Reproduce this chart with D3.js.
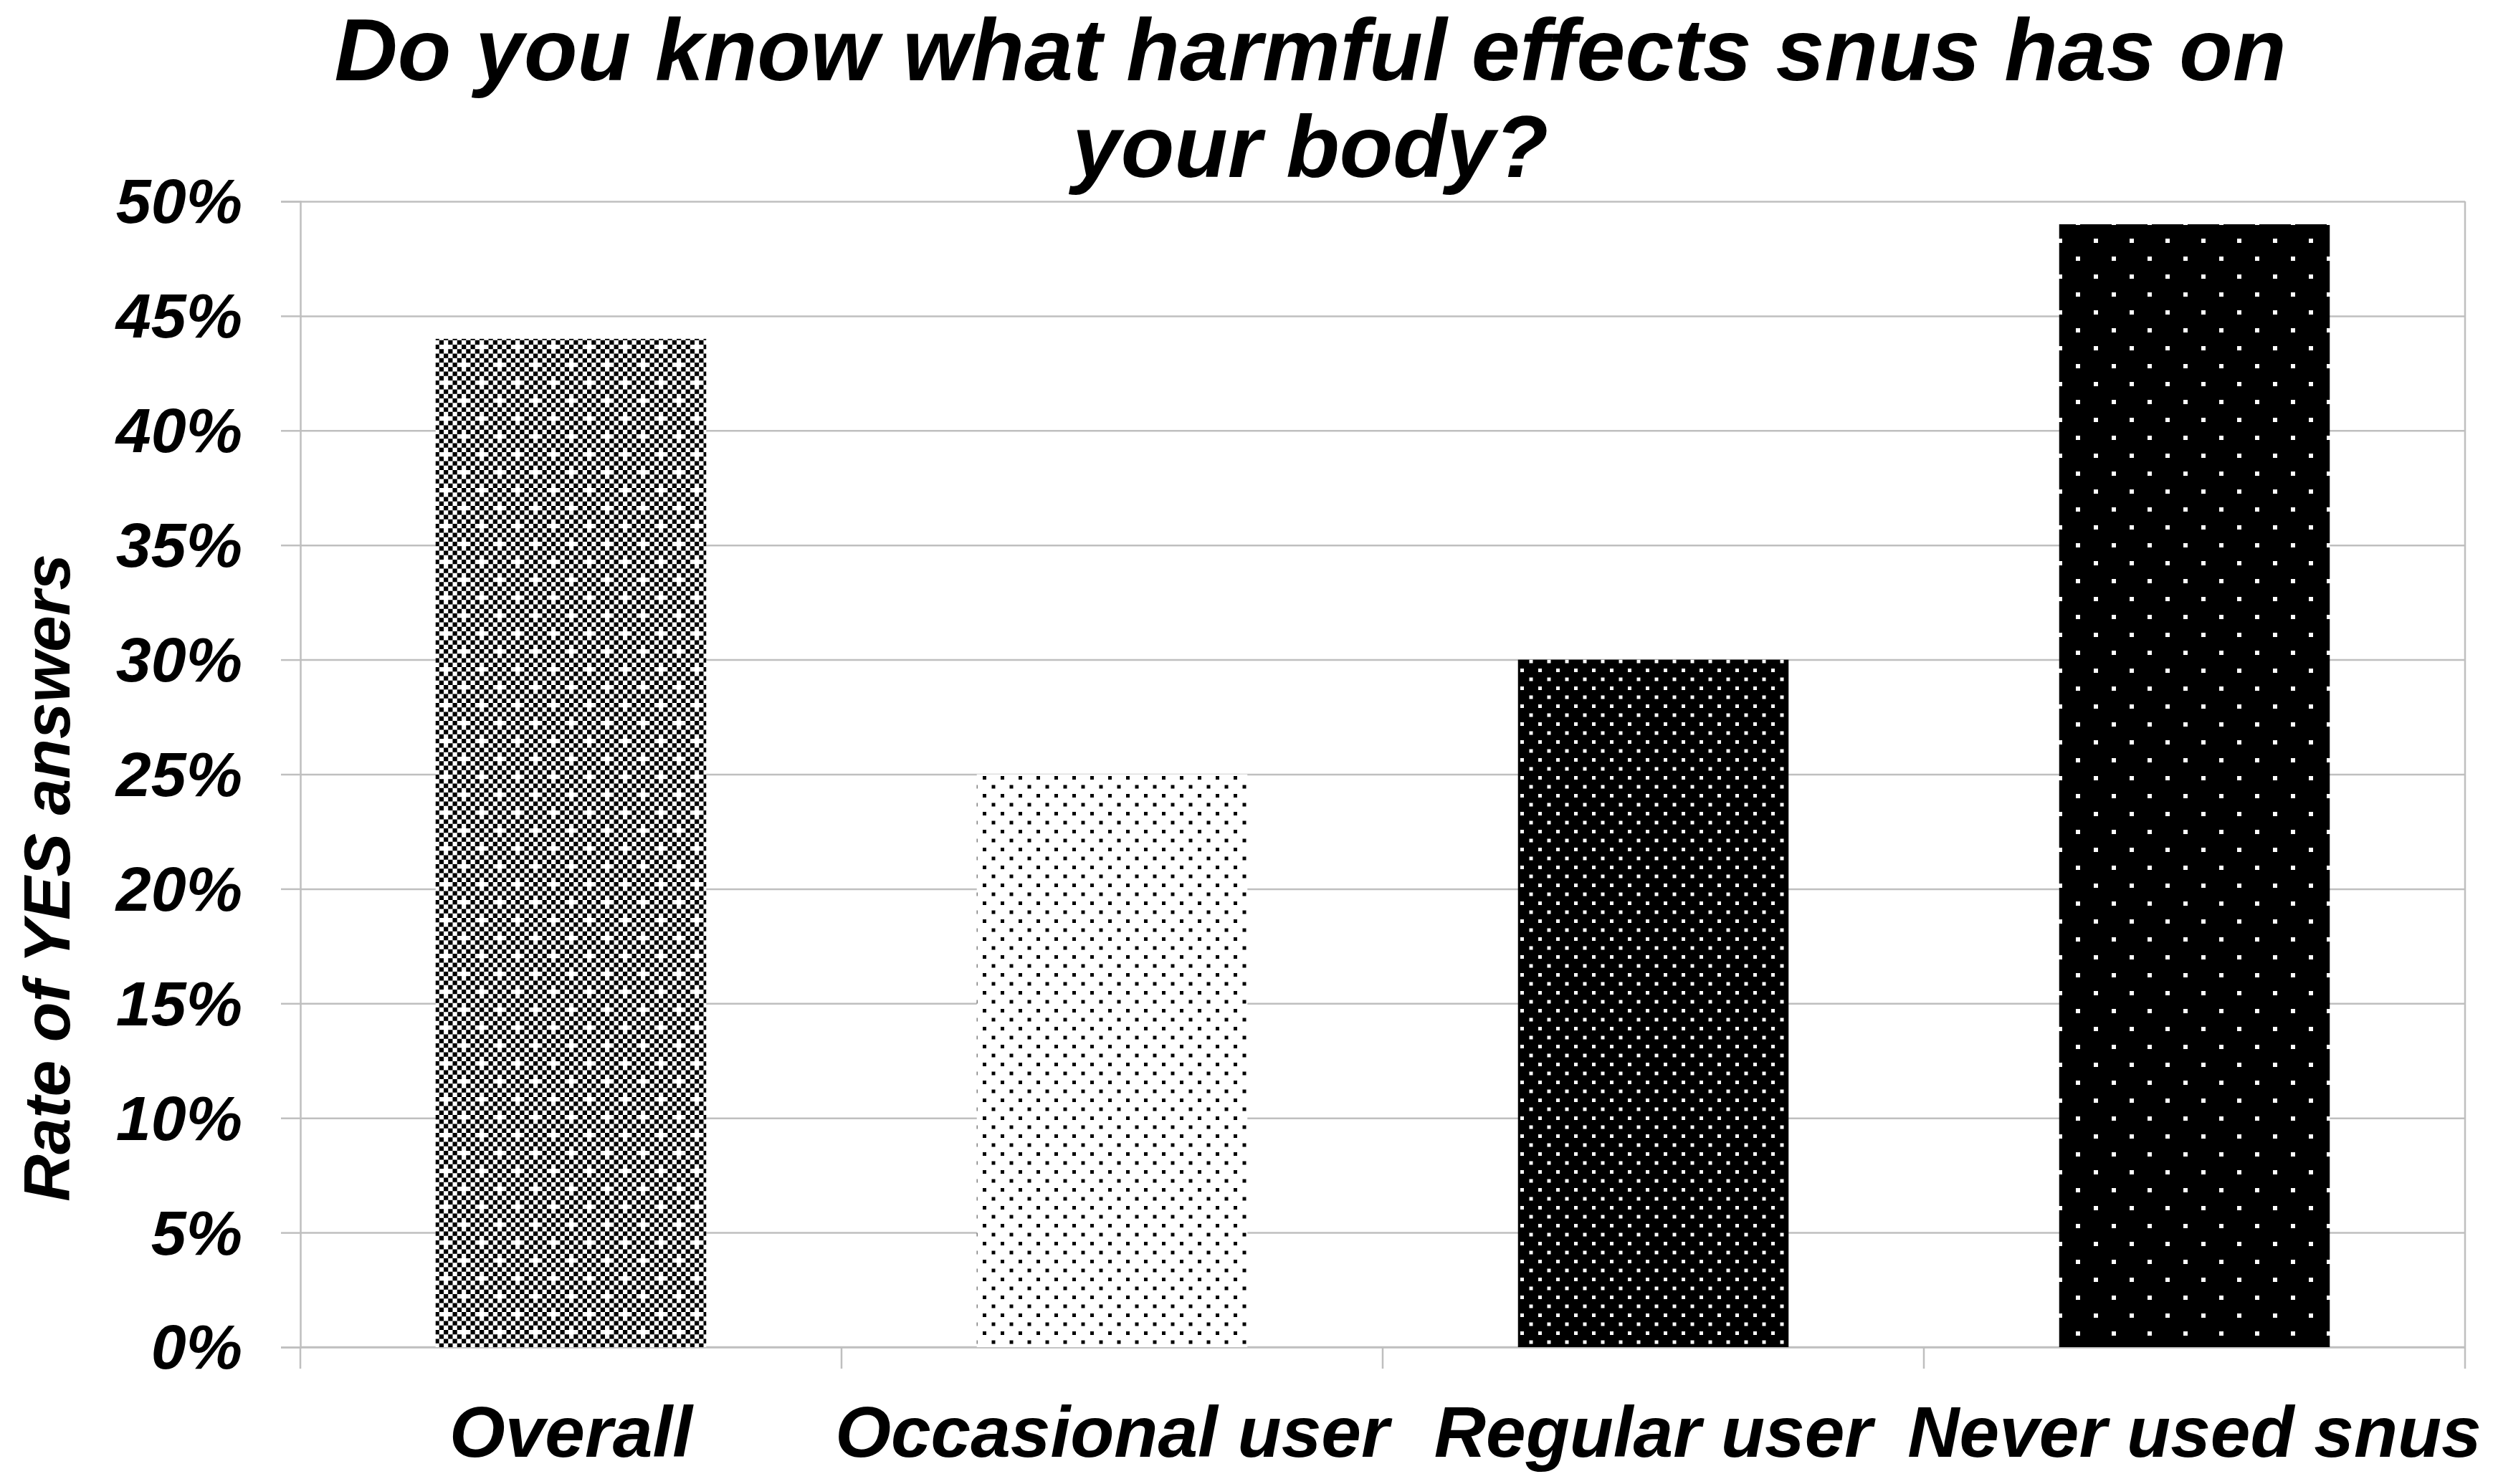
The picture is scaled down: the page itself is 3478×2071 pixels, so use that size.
<!DOCTYPE html>
<head>
    <meta charset="utf-8">
    <script src="https://d3js.org/d3.v7.min.js"></script>
    <style>
        body { margin: 0; background: #fff; }
        text { font-family: "Liberation Sans", Arial, sans-serif; font-weight: bold; font-style: italic; fill: #000; }
    </style>
</head>

<body>
    <div id="barchart"></div>
</body>

<script>

    // data
    const categories = ["Overall", "Occasional user", "Regular user", "Never used snus"];
    const yesRate = [0.44, 0.25, 0.30, 0.49];
    const yTicks = [0, 0.05, 0.10, 0.15, 0.20, 0.25, 0.30, 0.35, 0.40, 0.45, 0.50];
    const titleLines = ["Do you know what harmful effects snus has on", "your body?"];
    const yTitle = "Rate of YES answers";

    const fills = ["url(#pOverall)", "url(#pOccasional)", "url(#pRegular)", "url(#pNever)"];

    const W = 3478, H = 2071;
    const margin = {top: 281, right: 39, bottom: 191, left: 419},
        width = W - margin.left - margin.right,
        height = H - margin.top - margin.bottom;

    const root = d3.select("#barchart")
        .append("svg")
            .attr("width", W)
            .attr("height", H);

    // fill patterns
    const defs = root.append("defs");

    // checkerboard with white crosses
    const cell = 6.25;
    const pO = defs.append("pattern")
        .attr("id", "pOverall")
        .attr("patternUnits", "userSpaceOnUse")
        .attr("width", 50).attr("height", 50);
    pO.append("rect").attr("width", 50).attr("height", 50).attr("fill", "#fff");
    const cells = [];
    for (let i = 0; i < 8; i++) {
        for (let j = 0; j < 8; j++) {
            if ((i + j) % 2 === 0 && !(i === 0 && j === 0) && !(i === 4 && j === 4)) cells.push([i, j]);
        }
    }
    pO.selectAll("rect.c")
        .data(cells)
        .join("rect")
            .attr("class", "c")
            .attr("x", d => d[0] * cell)
            .attr("y", d => d[1] * cell)
            .attr("width", cell)
            .attr("height", cell)
            .attr("fill", "#000");

    function dotPattern(id, size, bg, fg, dot) {
        const p = defs.append("pattern")
            .attr("id", id)
            .attr("patternUnits", "userSpaceOnUse")
            .attr("width", size).attr("height", size);
        p.append("rect").attr("width", size).attr("height", size).attr("fill", bg);
        p.selectAll("rect.d")
            .data([[0, 0], [size / 2, size / 2]])
            .join("rect")
                .attr("class", "d")
                .attr("x", d => d[0] + 2)
                .attr("y", d => d[1] + 2)
                .attr("width", dot)
                .attr("height", dot)
                .attr("fill", fg);
    }
    dotPattern("pOccasional", 25, "#fff", "#000", 5);
    dotPattern("pRegular", 25, "#000", "#fff", 5);
    dotPattern("pNever", 50, "#000", "#fff", 6);

    const svg = root.append("g")
        .attr("transform", `translate(${margin.left},${margin.top})`);

    // scales
    const x = d3.scaleBand()
        .domain(categories)
        .range([0, width])
        .paddingInner(0.5)
        .paddingOuter(0.25);

    const y = d3.scaleLinear()
        .domain([0, 0.5])
        .range([height, 0]);

    const gridColor = "#bfbfbf";

    // gridlines
    svg.append("g")
        .call(d3.axisLeft(y).tickValues(yTicks).tickSize(-width).tickFormat(""))
        .call(g => g.select(".domain").remove())
        .call(g => g.selectAll("line").attr("stroke", gridColor).attr("stroke-width", 2.5));

    // Y axis
    svg.append("g")
        .call(d3.axisLeft(y).tickValues(yTicks).tickSize(27).tickPadding(54).tickFormat(d3.format(".0%")))
        .call(g => g.select(".domain").attr("stroke", gridColor).attr("stroke-width", 2.5))
        .call(g => g.selectAll("line").attr("stroke", gridColor).attr("stroke-width", 2.5))
        .call(g => g.selectAll("text")
            .attr("font-size", 88)
            .attr("font-family", null)
            .attr("dy", "0.34em"));

    // right frame line
    svg.append("line")
        .attr("x1", width).attr("x2", width)
        .attr("y1", y(0.5)).attr("y2", height + 30)
        .attr("stroke", gridColor)
        .attr("stroke-width", 2.5);

    // X axis line and category boundary ticks
    svg.append("line")
        .attr("x1", 0).attr("x2", width)
        .attr("y1", height).attr("y2", height)
        .attr("stroke", gridColor)
        .attr("stroke-width", 2.5);

    const gap = (x.step() - x.bandwidth()) / 2;
    const bounds = categories.map(c => x(c) - gap);
    svg.selectAll(".xtick")
        .data(bounds)
        .join("line")
            .attr("class", "xtick")
            .attr("x1", d => d).attr("x2", d => d)
            .attr("y1", height).attr("y2", height + 30)
            .attr("stroke", gridColor)
            .attr("stroke-width", 2.5);

    // bars
    svg.selectAll(".bar")
        .data(categories)
        .join("rect")
            .attr("class", "bar")
            .attr("x", d => x(d))
            .attr("y", (d, i) => y(yesRate[i]))
            .attr("width", x.bandwidth())
            .attr("height", (d, i) => height - y(yesRate[i]))
            .attr("fill", (d, i) => fills[i]);

    // X labels
    svg.selectAll(".xlabel")
        .data(categories)
        .join("text")
            .attr("class", "xlabel")
            .attr("x", d => x(d) + x.bandwidth() / 2)
            .attr("y", 2033 - margin.top)
            .attr("text-anchor", "middle")
            .attr("font-size", 100)
            .text(d => d);

    // Y title
    root.append("text")
        .attr("transform", "translate(97,1225) rotate(-90)")
        .attr("text-anchor", "middle")
        .attr("font-size", 91)
        .text(yTitle);

    // chart title
    root.selectAll(".title")
        .data(titleLines)
        .join("text")
            .attr("class", "title")
            .attr("x", 1828)
            .attr("y", (d, i) => 112 + i * 135)
            .attr("text-anchor", "middle")
            .attr("font-size", 122)
            .text(d => d);

</script>
</html>
